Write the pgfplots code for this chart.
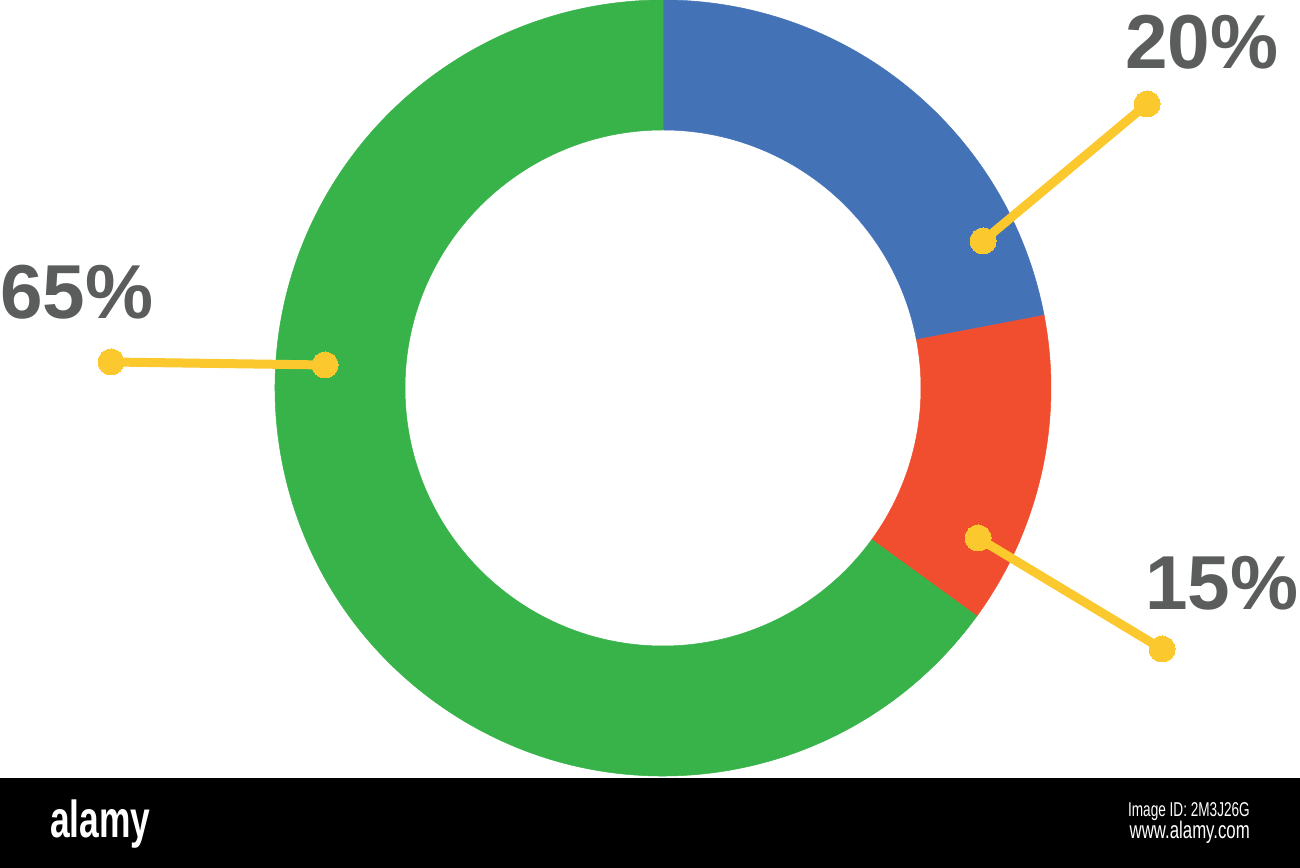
\documentclass[border=0pt]{standalone}
\usepackage{pgfplots}
\pgfplotsset{compat=1.18}
\usepackage{fontspec}
\setmainfont{Liberation Sans}
\usetikzlibrary{calc}
\definecolor{sblue}{HTML}{4472B7}
\definecolor{sred}{HTML}{F04E2F}
\definecolor{sgreen}{HTML}{37B34A}
\definecolor{syellow}{HTML}{FBC82E}
\definecolor{sgray}{HTML}{5B5D5D}
% shares as drawn (labels: 20%, 15%, 65%)
\def\va{22.0}\def\vb{13.0}\def\vc{65.0}
\pgfmathsetmacro\aA{90}
\pgfmathsetmacro\aB{90-3.6*\va}
\pgfmathsetmacro\aC{\aB-3.6*\vb}
\pgfmathsetmacro\aD{\aC-3.6*\vc}
\newcommand\donutsector[3]{%
  \fill[#3,draw=#3,line width=0.5pt] ($(axis cs:663,479)+(#1:388pt)$) arc[start angle=#1,end angle=#2,radius=388pt]
    -- ($(axis cs:663,479)+(#2:258pt)$) arc[start angle=#2,end angle=#1,radius=258pt] -- cycle;}
\pgfplotsset{leader/.style={syellow,line width=9pt,mark=*,mark size=13pt,
  mark options={fill=syellow,draw=syellow,line width=0pt}}}
\begin{document}
\begin{tikzpicture}
\begin{axis}[x=1pt,y=1pt,xmin=0,xmax=1300,ymin=0,ymax=867,hide axis,clip=false,
  disabledatascaling,scale only axis]
\coordinate (BL) at (axis cs:0,0);
\coordinate (TR) at (axis cs:1300,867);
\fill[white] (axis cs:0,0) rectangle (axis cs:1300,867);
\donutsector{\aA}{\aB}{sblue}
\donutsector{\aB}{\aC}{sred}
\donutsector{\aC}{\aD}{sgreen}
\addplot[leader] coordinates {(983,626) (1147,763)};
\addplot[leader] coordinates {(978,329) (1162,218)};
\addplot[leader] coordinates {(325,502) (111,505)};
\node[text=sgray,font=\fontsize{76.5}{80}\selectfont\bfseries,inner sep=0pt] at (axis cs:1202,825) {20\%};
\node[text=sgray,font=\fontsize{76.5}{80}\selectfont\bfseries,inner sep=0pt] at (axis cs:1222,284) {15\%};
\node[text=sgray,font=\fontsize{76.5}{80}\selectfont\bfseries,inner sep=0pt] at (axis cs:77,575) {65\%};
\fill[black] (axis cs:-5,-5) rectangle (axis cs:1305,89);
\node[anchor=base west,text=white,inner sep=0pt,font=\fontsize{52}{54}\selectfont\bfseries] at (axis cs:50,30) {\scalebox{0.68}[1]{alamy}};
\node[anchor=base east,text=white,inner sep=0pt,font=\fontsize{20}{22}\selectfont] at (axis cs:1250,51) {\scalebox{0.68}[1]{Image ID: 2M3J26G}};
\node[anchor=base east,text=white,inner sep=0pt,font=\fontsize{24}{26}\selectfont] at (axis cs:1250,29) {\scalebox{0.7}[1]{www.alamy.com}};
\end{axis}
\pgfresetboundingbox
\useasboundingbox (BL) rectangle (TR);
\end{tikzpicture}
\end{document}
